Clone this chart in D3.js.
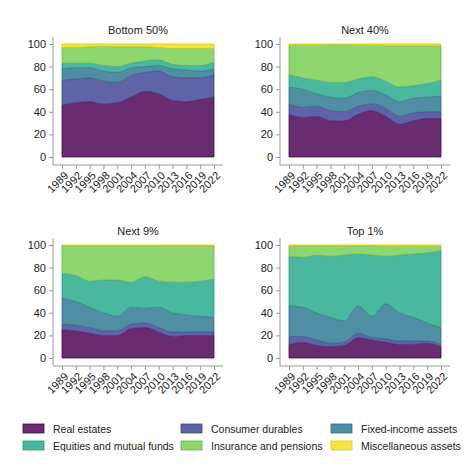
<!DOCTYPE html>
<html><head><meta charset="utf-8">
<script src="https://cdn.jsdelivr.net/npm/d3@7"></script>
<style>body{margin:0;background:#fff}text{font-family:"Liberation Sans",Arial,sans-serif}</style>
</head><body><svg id="c" width="474" height="474"></svg>
<script>
const years=[1989,1992,1995,1998,2001,2004,2007,2010,2013,2016,2019,2022];
const tickYears=[1989,1992,1995,1998,2001,2004,2007,2010,2013,2016,2019,2022];
const seriesNames=["Real estates","Consumer durables","Fixed-income assets","Equities and mutual funds","Insurance and pensions","Miscellaneous assets"];
const colors=["#6a2c70","#5e64a6","#4f8ea3","#4ab79f","#8ed66e","#f7e43c"];
const strokes=["#3a0d45","#3f4585","#336f84","#2e9480","#6cb552","#d7c420"];
const panelTitles=["Bottom 50%","Next 40%","Next 9%","Top 1%"];
// cumulative upper bounds of each layer (%), last layer reaches 100
const b50_re=[46,48,49,47,48,53,58,56,50,49,51,53];
const b50_cd=[68,69,70,67,66,72,75,76,71,70,70,73];
const b50_fi=[78,79,79,76,75,79,80,81,78,77,76,78];
const b50_eq=[83,83,83,81,80,83,85,86,82,81,81,84];
const b50_in=[97,97,97.5,98,97.5,97.5,97.5,97,96,96,96,96];
const n40_re=[38,35,36,32,32,38,41,36,29,32,34,34];
const n40_cd=[47,44,45,41,40,45,47,43,36,39,40,40];
const n40_fi=[62,60,56,53,52,57,59,55,49,52,53,54];
const n40_eq=[73,70,68,66,66,69,71,67,62,63,65,68];
const n40_in=[99,99,99,99.3,99.3,99,99,98.5,98.5,98.5,98.5,98.5];
const n9_re=[25,24,22,20,20,26,27,23,19,20,20,20];
const n9_cd=[30,29,27,24,24,30,31,27,23,23,23,23];
const n9_fi=[53,50,45,40,37,45,44,45,40,38,37,36];
const n9_eq=[75,73,68,69,69,67,72,68,67,67,68,70];
const n9_in=[99.5,99.5,99.5,99.5,99.5,99.5,99.5,99.3,99.3,99.3,99.3,99.3];
const t1_re=[12,14,11,10,11,18,16,14,12,12,13,10];
const t1_cd=[19,19,16,13,14,22,18,17,15,15,15,12];
const t1_fi=[46,45,40,36,33,46,37,48,40,36,31,27];
const t1_eq=[90,89,91,90,91,92,91,90,91,92,93,95];
const t1_in=[99,99.5,99.5,99.5,99.5,99.5,99.5,99,99,99,99,99];
const panels=[[b50_re,b50_cd,b50_fi,b50_eq,b50_in],[n40_re,n40_cd,n40_fi,n40_eq,n40_in],[n9_re,n9_cd,n9_fi,n9_eq,n9_in],[t1_re,t1_cd,t1_fi,t1_eq,t1_in]];
const svg=d3.select("#c");
const pos=[[62,44],[289,44],[62,245],[289,245]];
const W=152,H=113;
panels.forEach((p,i)=>{
  const [x0,y0]=pos[i];
  const g=svg.append("g").attr("transform",`translate(${x0},${y0})`);
  const x=d3.scaleLinear().domain([1989,2022]).range([0,W]);
  const y=d3.scaleLinear().domain([0,100]).range([H,0]);
  const tops=[...p,years.map(()=>100)];
  tops.forEach((t,k)=>{
    const lo=k===0?years.map(()=>0):tops[k-1];
    const area=d3.area().x((d,j)=>x(years[j])).y0((d,j)=>y(lo[j])).y1((d,j)=>y(t[j])).curve(d3.curveMonotoneX);
    g.append("path").datum(t).attr("d",area).attr("fill",colors[k]).attr("stroke",strokes[k]).attr("stroke-width",0.8);
  });
  const ya=g.append("g").attr("transform","translate(-9,0)").call(d3.axisLeft(y).tickValues([0,20,40,60,80,100]).tickSize(4).tickSizeOuter(0));
  ya.select(".domain").attr("d",`M0,-7V${H+8}`);
  const xa=g.append("g").attr("transform",`translate(0,${H+8})`).call(d3.axisBottom(x).tickValues(tickYears).tickFormat(d3.format("d")).tickSize(4).tickSizeOuter(0));
  xa.select(".domain").attr("d",`M-9,0H${W+9}`);
  [ya,xa].forEach(a=>{a.selectAll("path,line").attr("stroke","#999");a.selectAll("text").attr("fill","#222").style("font-size","11px");});
  xa.selectAll("text").attr("text-anchor","end").attr("dx","-0.3em").attr("dy","0.5em").attr("transform","rotate(-45)");
  g.append("text").attr("x",W/2).attr("y",-10).attr("text-anchor","middle").style("font-size","11px").attr("fill","#222").text(panelTitles[i]);
});
const lx=[23,181,331],lt=[53,211,361],ly=[429,446];
seriesNames.forEach((n,k)=>{
  const c=k%3,r=Math.floor(k/3);
  svg.append("rect").attr("x",lx[c]).attr("y",ly[r]-5).attr("width",21).attr("height",9).attr("fill",colors[k]).attr("stroke",strokes[k]).attr("stroke-width",0.8);
  svg.append("text").attr("x",lt[c]).attr("y",ly[r]+4).style("font-size","10.5px").attr("fill","#222").text(n);
});
</script></body></html>
